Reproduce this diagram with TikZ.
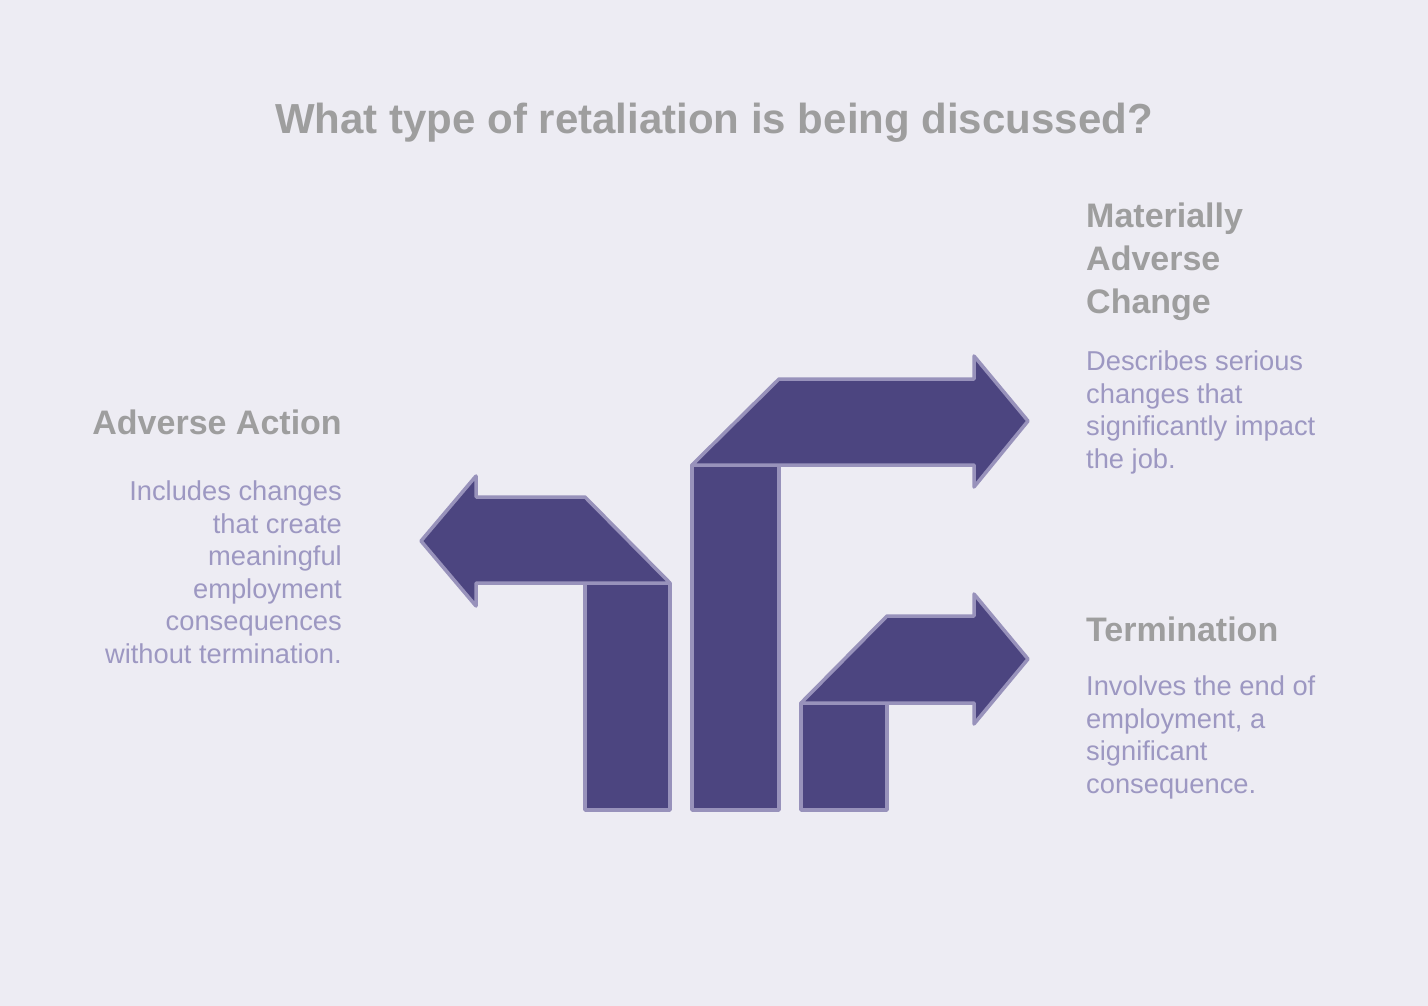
\documentclass[tikz,border=0pt]{standalone}
\usepackage{fontspec}
\setmainfont{Liberation Sans}
\definecolor{bgcol}{HTML}{EDECF3}
\definecolor{arrowfill}{HTML}{4C4580}
\definecolor{arrowline}{HTML}{9892BB}
\definecolor{headgray}{HTML}{9E9E9E}
\definecolor{bodylav}{HTML}{9D98C2}
\tikzset{
  bendarrow/.style={fill=arrowfill, draw=arrowline, line width=3.5pt, line join=round},
  titletext/.style={font=\fontsize{42}{50}\selectfont\bfseries, text=headgray, inner sep=0pt},
  headtext/.style={font=\fontsize{34}{43}\selectfont\bfseries, text=headgray, inner sep=0pt},
  bodytext/.style={font=\fontsize{27.3}{32.5}\selectfont, text=bodylav, inner sep=0pt},
}

\begin{document}
\begin{tikzpicture}[x=1pt, y=-1pt]
		%%%%% BACKGROUND %%%%%
		\fill[bgcol] (0, 0) rectangle (1428, 1006);
		\useasboundingbox (0, 0) rectangle (1428, 1006);
		
		\node[titletext, anchor=base] (title) at (714, 134) {What type of retaliation is being discussed?};
		
		%%%%% LEFT ARROW %%%%%
		\draw[bendarrow] (585, 583) rectangle (670, 810);
		\draw[bendarrow] (670, 583) -- (585, 497) -- (476, 497) -- (476, 476) -- (421, 541)
			-- (476, 606) -- (476, 583) -- cycle;
		
		%%%%% MIDDLE ARROW %%%%%
		\draw[bendarrow] (692, 465) rectangle (779, 810);
		\draw[bendarrow] (692, 465) -- (779, 379) -- (974, 379) -- (974, 356) -- (1028, 421)
			-- (974, 487) -- (974, 465) -- cycle;
		
		%%%%% RIGHT ARROW %%%%%
		\draw[bendarrow] (801, 703) rectangle (887, 810);
		\draw[bendarrow] (801, 703) -- (887, 616) -- (974, 616) -- (974, 594) -- (1028, 659)
			-- (974, 724) -- (974, 703) -- cycle;
		
		%%%%% TEXTS (base = last line) %%%%%
		\node[headtext, anchor=base east] (adverse) at (342, 434) {Adverse Action};
		\node[bodytext, anchor=base east, align=right] (adversebody) at (342, 663)
			{Includes changes\\that create\\meaningful\\employment\\consequences\\without termination.};
		
		\node[headtext, anchor=base west, align=left] (material) at (1086, 313)
			{Materially\\Adverse\\Change};
		\node[bodytext, anchor=base west, align=left] (materialbody) at (1086, 468)
			{Describes serious\\changes that\\significantly impact\\the job.};
		
		\node[headtext, anchor=base west] (termination) at (1086, 641) {Termination};
		\node[bodytext, anchor=base west, align=left] (terminationbody) at (1086, 793)
			{Involves the end of\\employment, a\\significant\\consequence.};
\end{tikzpicture}
\end{document}
